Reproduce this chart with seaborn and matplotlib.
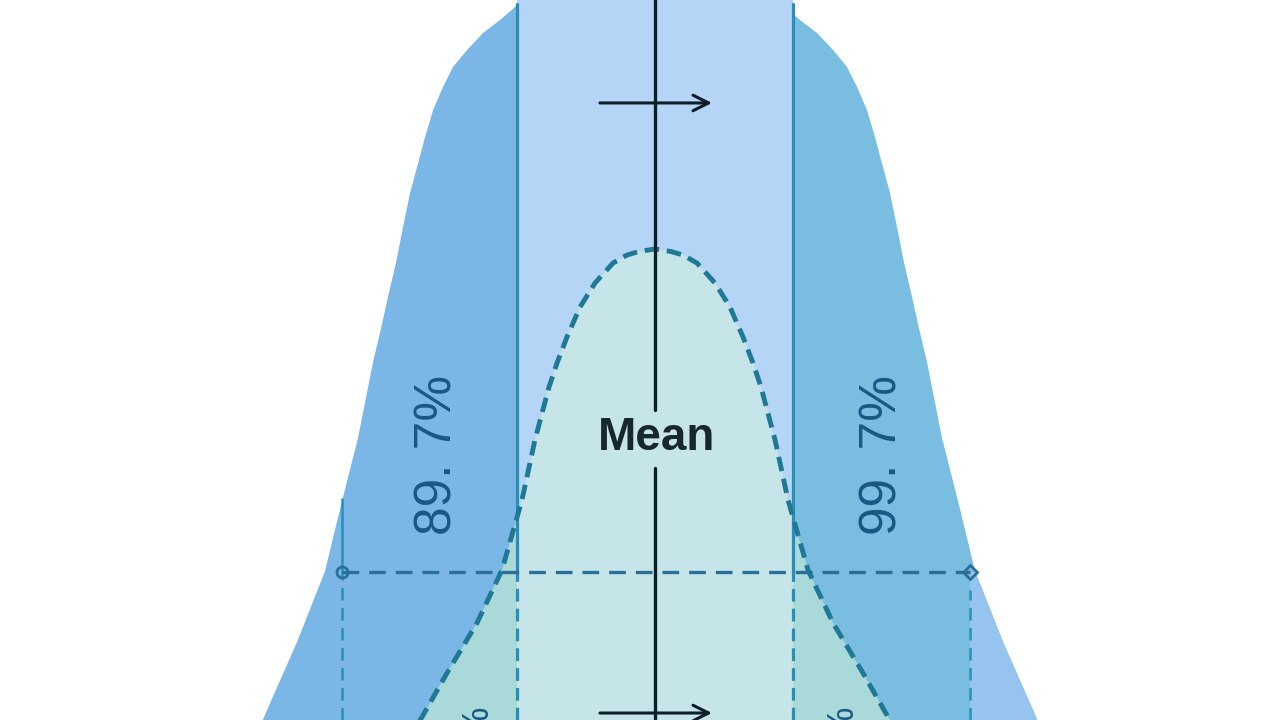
import numpy as np
import matplotlib.pyplot as plt
import seaborn as sns
from matplotlib.patches import Polygon, Rectangle

# Values.
# x in standard deviations from the mean, y as a share of the picture height
# outer bell: height and half width
outer_y = [1.0417, 0.9903, 0.9722, 0.9542, 0.9306, 0.9069, 0.8792, 0.8472,
           0.8097, 0.7681, 0.7319, 0.6847, 0.6347, 0.5875, 0.5375, 0.4972,
           0.3917, 0.2986, 0.2069, 0.1083, 0.0139, -0.0417]
outer_hw = [0.797, 0.978, 1.087, 1.210, 1.326, 1.428, 1.500, 1.572,
            1.630, 1.688, 1.739, 1.790, 1.841, 1.899, 1.957, 2.007,
            2.116, 2.239, 2.355, 2.558, 2.775, 2.899]
outer_center = -0.036

# inner (dashed) bell: height and half width
inner_y = [0.6542, 0.6507, 0.6458, 0.6347, 0.6069, 0.5736, 0.5319, 0.4958,
           0.4625, 0.3889, 0.3056, 0.2083, 0.1347, 0.0653, 0.0042, -0.0556]
inner_hw = [0.0, 0.116, 0.203, 0.304, 0.435, 0.543, 0.638, 0.710,
            0.768, 0.870, 0.964, 1.109, 1.290, 1.507, 1.688, 1.884]

band_edges = [-1.0, 1.0]
tail_marks = [-2.27, 2.283]
cut_level = 0.2056
side_labels = ['89. 7%', '99. 7%']
foot_labels = ['2.1%', '2.1%']
mean_label = 'Mean'

c_left = '#7ab7e7'
c_band = '#b4d5f6'
c_right = '#79bde1'
c_corner = '#97c3ef'
c_inner = '#c5e5e8'
c_inner_out = '#aad9da'
c_teal = '#2a8fb6'
c_dash = '#2b6f98'
c_curve = '#1f7896'
c_text = '#1a5884'
c_ink = '#0f1d29'

sns.set_theme(style='white')
plt.rcParams['font.family'] = ['Liberation Sans', 'DejaVu Sans']

fig = plt.figure(figsize=(12.8, 7.2), dpi=100)
ax = fig.add_axes([0, 0, 1, 1])
ax.set_xlim(-655 / 138, 625 / 138)
ax.set_ylim(0, 1)
ax.axis('off')

oy = np.array(outer_y)
ohw = np.array(outer_hw)
left_x = outer_center - ohw
right_x = outer_center + ohw
bell = Polygon(np.column_stack([np.r_[left_x, right_x[::-1]], np.r_[oy, oy[::-1]]]),
               closed=True, facecolor='none', edgecolor='none')
ax.add_patch(bell)

xmin, xmax = ax.get_xlim()
lo, hi = band_edges

# coloured regions inside the outer bell
for art in [ax.axvspan(xmin, lo, color=c_left, lw=0, zorder=1),
            ax.axvspan(hi, xmax, color=c_right, lw=0, zorder=1),
            ax.fill_between([tail_marks[1], xmax], -0.1, cut_level,
                            color=c_corner, lw=0, zorder=1.2)]:
    art.set_clip_path(bell)

ax.axvspan(lo, hi, color=c_band, lw=0, zorder=1.5)

# inner bell fill
iy = np.array(inner_y)
ihw = np.array(inner_hw)
in_x = np.r_[-ihw[::-1], ihw[1:]]
in_y = np.r_[iy[::-1], iy[1:]]
ax.fill(in_x, in_y, color=c_inner_out, lw=0, zorder=2)
clip_band = Rectangle((lo, -1), hi - lo, 3, transform=ax.transData)
for p in ax.fill(in_x, in_y, color=c_inner, lw=0, zorder=2.1):
    p.set_clip_path(clip_band)

# band edges: solid above the cut level, dashed below
for xv in band_edges:
    ax.plot([xv, xv], [cut_level, 0.995], color=c_teal, lw=2.3, zorder=3)
    ax.plot([xv, xv], [0, cut_level], color=c_teal, lw=2.3,
            ls=(0, (4, 2.2)), zorder=3)

# tail marks
ax.plot([tail_marks[0]] * 2, [cut_level, 0.307], color=c_teal, lw=1.8, zorder=3)
ax.plot([tail_marks[0]] * 2, [0, cut_level], color=c_teal, lw=1.8,
        ls=(0, (5, 3)), zorder=3)
ax.plot([tail_marks[1]] * 2, [0, 0.18], color=c_teal, lw=1.8,
        ls=(0, (5, 3)), zorder=3)
ax.plot(tail_marks, [cut_level] * 2, color=c_dash, lw=2.4,
        ls=(0, (5, 3)), zorder=3)
ax.plot(tail_marks[0], cut_level, marker='o', ms=8, mfc='none', mec=c_dash,
        mew=2, zorder=3.5)
ax.plot(tail_marks[1], cut_level, marker='D', ms=7, mfc='none', mec=c_dash,
        mew=2, zorder=3.5)

# dashed inner curve
sns.lineplot(x=in_x, y=in_y, sort=False, estimator=None, color=c_curve,
             lw=3.5, ax=ax, zorder=4)
ax.lines[-1].set_linestyle((0, (3, 1.6)))

# mean line with a gap for the label
ax.plot([0, 0], [0.4306, 1.0], color=c_ink, lw=2.4, zorder=5)
ax.plot([0, 0], [0, 0.35], color=c_ink, lw=2.4, zorder=5)
for ya in [0.857, 0.0097]:
    ax.annotate('', xy=(0.413, ya), xytext=(-0.399, ya),
                arrowprops=dict(arrowstyle='->', lw=2.2, color=c_ink,
                                mutation_scale=28, shrinkA=0, shrinkB=0),
                zorder=5)

ax.text(0.014, 0.392, mean_label, ha='center', va='center', fontsize=33,
        fontweight='bold', color='#17262f', zorder=6)
for xt, lab in zip([-1.57, 1.65], side_labels):
    ax.text(xt, 0.368, lab, rotation=90, ha='center', va='center',
            fontsize=37, color=c_text, zorder=6)
for xt, lab in zip([-1.283, 1.362], foot_labels):
    ax.text(xt, 0.022, lab, rotation=90, ha='center', va='top',
            fontsize=26, color=c_text, zorder=6)

fig.savefig('out.png', dpi=100)
